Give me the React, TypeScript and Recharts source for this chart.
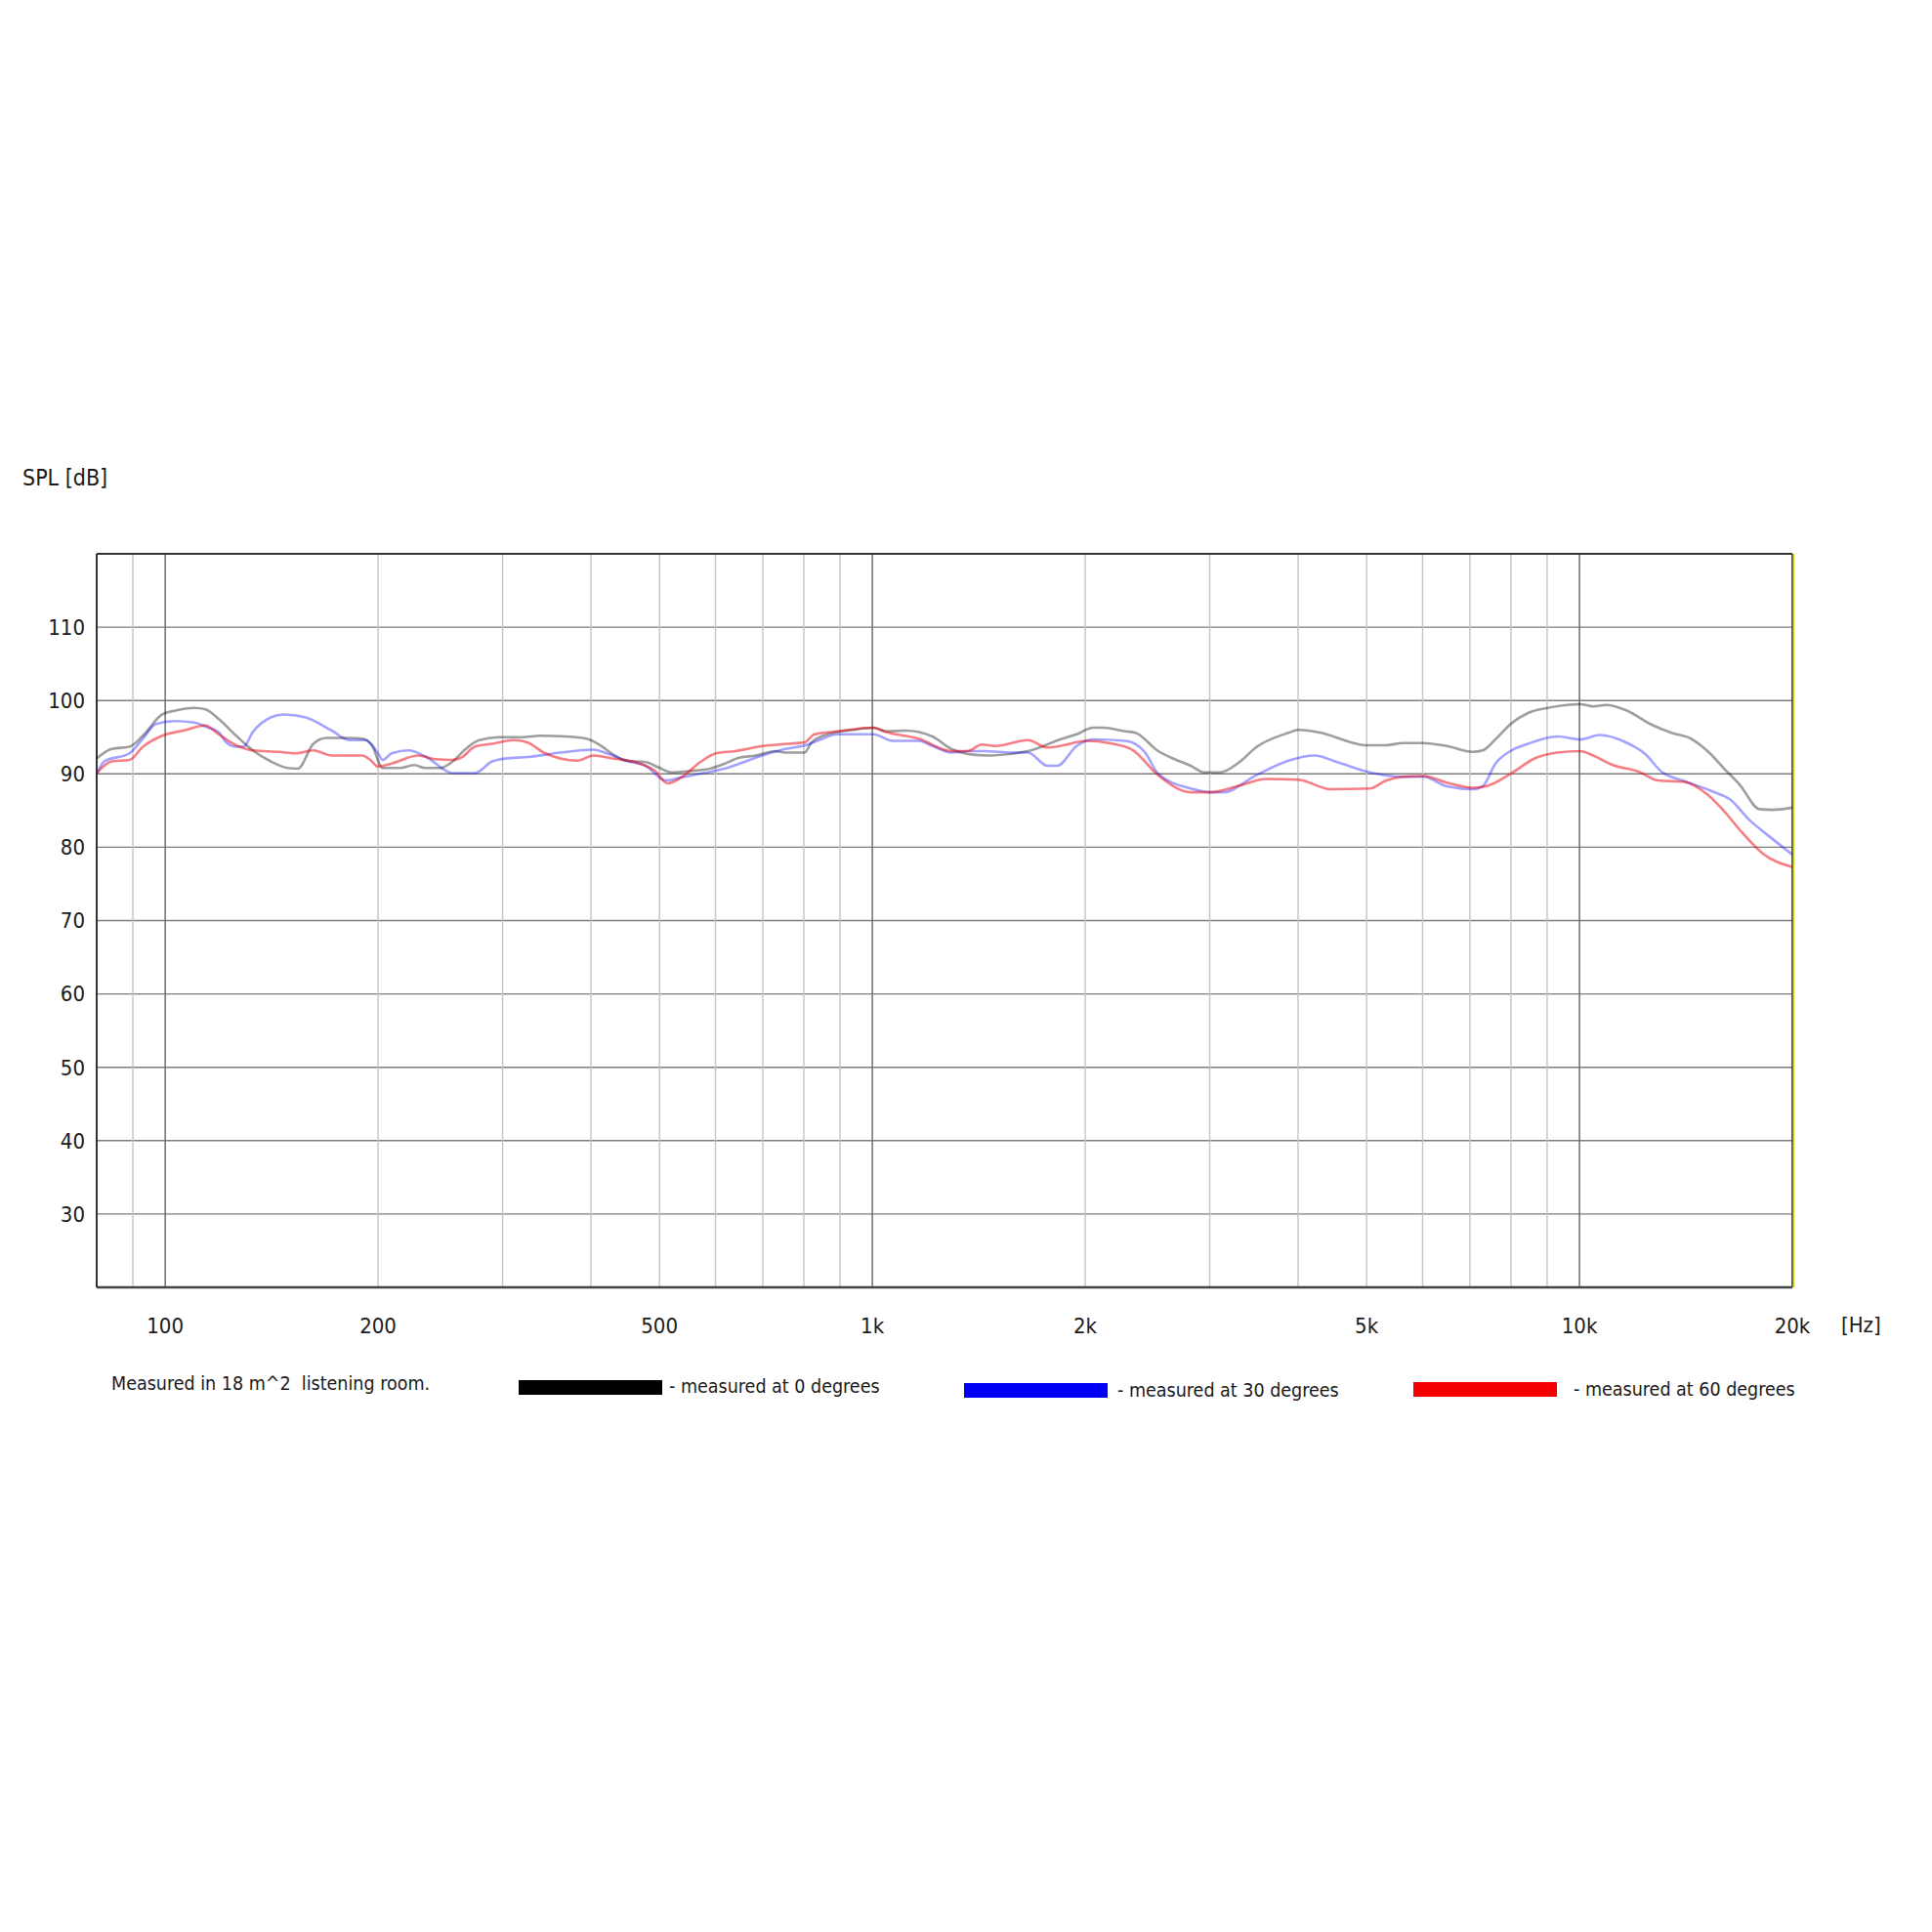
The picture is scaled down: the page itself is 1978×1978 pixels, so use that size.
import { Line, LineChart, ReferenceLine, XAxis, YAxis } from 'recharts';

// 0 degrees
const F0 = [80, 84, 89, 93, 99, 103, 110, 114, 119, 126, 133, 141, 149, 154, 162, 169, 182, 190, 196, 203, 215, 225, 233, 245, 255, 266, 278, 299, 320, 339, 369, 394, 411, 429, 448, 478, 498, 520, 553, 589, 615, 648, 684, 729, 753, 802, 819, 864, 941, 1003, 1046, 1115, 1216, 1293, 1364, 1459, 1660, 1845, 1945, 2052, 2118, 2282, 2356, 2537, 2676, 2820, 2945, 3103, 3305, 3487, 3878, 4002, 4312, 4794, 5000, 5331, 5622, 6003, 6490, 7067, 7296, 7606, 8016, 8458, 9019, 10030, 10457, 10902, 11628, 12652, 13492, 14376, 15330, 15986, 16860, 17965, 18743, 20000];
const SPL0 = [92.1, 93.4, 93.7, 95.2, 98.1, 98.6, 99.0, 98.8, 97.5, 95.2, 93.2, 91.7, 90.8, 90.7, 94.1, 94.9, 94.9, 94.8, 93.9, 90.8, 90.8, 91.2, 90.8, 90.8, 91.7, 93.4, 94.6, 95.0, 95.0, 95.2, 95.1, 94.8, 94.0, 92.7, 91.8, 91.6, 90.9, 90.2, 90.4, 90.7, 91.3, 92.2, 92.5, 93.1, 92.9, 92.9, 94.2, 95.4, 96.0, 96.3, 95.8, 95.9, 95.1, 93.4, 92.7, 92.5, 93.1, 94.7, 95.4, 96.3, 96.3, 95.8, 95.6, 93.1, 92.0, 91.1, 90.2, 90.2, 91.6, 93.6, 95.6, 96.0, 95.6, 94.2, 93.9, 93.9, 94.2, 94.2, 93.8, 93.0, 93.2, 94.7, 96.9, 98.3, 99.0, 99.5, 99.2, 99.4, 98.7, 96.7, 95.6, 94.8, 92.7, 90.8, 88.5, 85.2, 85.1, 85.4];

// 30 degrees
const F30 = [80, 82, 89, 93, 97, 103, 110, 115, 119, 122, 126, 129, 133, 141, 147, 158, 172, 182, 192, 200, 203, 209, 221, 234, 255, 274, 290, 303, 326, 362, 403, 424, 448, 478, 510, 542, 584, 628, 684, 746, 811, 846, 892, 1003, 1069, 1163, 1216, 1293, 1364, 1444, 1574, 1660, 1769, 1826, 1945, 2052, 2282, 2431, 2537, 2820, 3006, 3136, 3487, 3878, 4221, 4545, 5053, 5622, 6024, 6490, 7067, 7296, 7606, 8016, 8458, 9301, 10030, 10686, 11628, 12390, 13060, 14076, 15330, 16332, 17400, 18540, 20000];
const SPL30 = [90.0, 91.7, 92.8, 94.8, 96.8, 97.2, 97.0, 96.3, 95.7, 94.3, 93.7, 93.7, 95.7, 97.7, 98.1, 97.7, 95.9, 94.6, 94.6, 92.8, 91.9, 92.8, 93.2, 92.3, 90.1, 90.1, 91.7, 92.1, 92.3, 92.9, 93.3, 92.7, 91.8, 91.1, 89.1, 89.6, 90.2, 90.9, 92.2, 93.3, 94.0, 94.7, 95.4, 95.4, 94.5, 94.5, 93.8, 92.9, 93.1, 93.1, 92.9, 92.9, 91.1, 91.1, 93.8, 94.7, 94.5, 92.9, 90.0, 88.0, 87.5, 87.5, 89.8, 91.8, 92.5, 91.6, 90.2, 89.6, 89.6, 88.3, 87.9, 88.3, 91.4, 93.2, 94.1, 95.1, 94.7, 95.3, 94.3, 92.7, 90.3, 89.0, 87.7, 86.5, 83.7, 81.5, 79.0];

// 60 degrees
const F60 = [80, 84, 89, 93, 99, 106, 114, 119, 126, 133, 145, 153, 162, 172, 190, 195, 200, 209, 228, 241, 255, 263, 274, 290, 311, 325, 343, 383, 403, 429, 462, 493, 513, 542, 571, 601, 640, 699, 761, 802, 828, 892, 1003, 1046, 1163, 1293, 1364, 1429, 1493, 1660, 1769, 1845, 2008, 2161, 2331, 2537, 2820, 3006, 3305, 3602, 4002, 4448, 5053, 5331, 5622, 6024, 6490, 7067, 7372, 8016, 8642, 9301, 10030, 10457, 11150, 12120, 12930, 14076, 15160, 15986, 17020, 18130, 20000];
const SPL60 = [90.1, 91.7, 91.9, 93.7, 95.2, 95.9, 96.6, 95.4, 93.9, 93.2, 93.0, 92.8, 93.2, 92.5, 92.5, 91.9, 91.0, 91.4, 92.5, 92.0, 91.9, 92.3, 93.7, 94.1, 94.6, 94.3, 92.9, 91.8, 92.5, 92.1, 91.6, 90.4, 88.7, 89.8, 91.6, 92.8, 93.1, 93.8, 94.1, 94.3, 95.4, 95.8, 96.3, 95.7, 94.8, 93.1, 93.1, 94.0, 93.8, 94.6, 93.6, 93.8, 94.5, 94.2, 93.3, 89.8, 87.5, 87.5, 88.4, 89.3, 89.2, 87.9, 88.0, 89.1, 89.6, 89.7, 88.8, 88.1, 88.3, 90.1, 92.1, 92.9, 93.1, 92.5, 91.2, 90.3, 89.1, 88.9, 87.2, 85.0, 81.9, 79.2, 77.3];

const X_TICKS = [100, 200, 500, 1000, 2000, 5000, 10000, 20000];
const Y_TICKS = [30, 40, 50, 60, 70, 80, 90, 100, 110];
const GRID_MINOR = [90, 200, 300, 400, 500, 600, 700, 800, 900, 2000, 3000, 4000, 5000, 6000, 7000, 8000, 9000];
const GRID_MAJOR = [100, 1000, 10000];

const FONT = '"DejaVu Sans Condensed", "DejaVu Sans", sans-serif';
const TEXT = '#1a1a1a';

const toData = (f: number[], v: number[]) => f.map((hz, i) => ({ f: hz, spl: v[i] }));
const fmtHz = (v: number) => (v >= 1000 ? `${v / 1000}k` : `${v}`);

const legendText: React.CSSProperties = {
  position: 'absolute',
  fontFamily: FONT,
  fontSize: 19.5,
  lineHeight: '22px',
  color: TEXT,
  whiteSpace: 'pre',
};

const bar = (left: number, top: number, color: string): React.CSSProperties => ({
  position: 'absolute',
  left,
  top,
  width: 147,
  height: 15,
  background: color,
});

export default function App() {
  return (
    <div style={{ position: 'relative', width: 1962, height: 1600 }}>
      <div style={{ ...legendText, left: 15, top: 468, fontSize: 23, lineHeight: '26px' }}>SPL [dB]</div>
      <LineChart width={1962} height={1370} margin={{ top: 559, right: 135, bottom: 0, left: 0 }}>
        <XAxis
          dataKey="f"
          type="number"
          scale="log"
          domain={[80, 20000]}
          ticks={X_TICKS}
          tickFormatter={fmtHz}
          allowDataOverflow
          axisLine={false}
          tickLine={false}
          tickSize={0}
          tickMargin={31}
          height={60}
          interval={0}
          tick={{ fill: TEXT, fontSize: 22, fontFamily: FONT }}
        />
        <YAxis
          type="number"
          domain={[20, 120]}
          ticks={Y_TICKS}
          allowDataOverflow
          axisLine={false}
          tickLine={false}
          tickSize={0}
          tickMargin={12}
          width={91}
          tick={{ fill: TEXT, fontSize: 22, fontFamily: FONT }}
        />
        {Y_TICKS.map((y) => (
          <ReferenceLine key={`h${y}`} y={y} stroke="#7c7c7c" strokeWidth={1.4} />
        ))}
        {GRID_MINOR.map((x) => (
          <ReferenceLine key={`v${x}`} x={x} stroke="#c4c4c4" strokeWidth={1.4} />
        ))}
        {GRID_MAJOR.map((x) => (
          <ReferenceLine key={`m${x}`} x={x} stroke="#6e6e6e" strokeWidth={1.5} />
        ))}
        <ReferenceLine y={120} stroke="#333" strokeWidth={2} />
        <ReferenceLine y={20} stroke="#444" strokeWidth={2.5} />
        <ReferenceLine x={80} stroke="#333" strokeWidth={2} />
        <ReferenceLine
          x={20000}
          stroke="#d8e02a"
          strokeWidth={2}
          shape={(p: any) => (
            <g>
              <line x1={p.x1} y1={p.y1} x2={p.x2} y2={p.y2} stroke="#333" strokeWidth={1.6} />
              <line x1={p.x1 + 1.6} y1={p.y1} x2={p.x2 + 1.6} y2={p.y2} stroke="#d8e02a" strokeWidth={1.6} />
            </g>
          )}
        />
        <Line data={toData(F0, SPL0)} dataKey="spl" type="monotone" stroke="rgba(0,0,0,0.38)" strokeWidth={2.6} dot={false} isAnimationActive={false} />
        <Line data={toData(F30, SPL30)} dataKey="spl" type="monotone" stroke="rgba(0,0,255,0.36)" strokeWidth={2.6} dot={false} isAnimationActive={false} />
        <Line data={toData(F60, SPL60)} dataKey="spl" type="monotone" stroke="rgba(235,0,10,0.5)" strokeWidth={2.6} dot={false} isAnimationActive={false} />
      </LineChart>
      <div style={{ ...legendText, left: 1877, top: 1336, fontSize: 22, lineHeight: '26px' }}>[Hz]</div>
      <div style={{ ...legendText, left: 106, top: 1398 }}>{'Measured in 18 m^2  listening room.'}</div>
      <div style={bar(523, 1405, '#000')} />
      <div style={{ ...legendText, left: 677, top: 1401 }}>- measured at 0 degrees</div>
      <div style={bar(979, 1408, '#0000f5')} />
      <div style={{ ...legendText, left: 1136, top: 1405 }}>- measured at 30 degrees</div>
      <div style={bar(1439, 1407, '#f50000')} />
      <div style={{ ...legendText, left: 1603, top: 1404 }}>- measured at 60 degrees</div>
    </div>
  );
}
